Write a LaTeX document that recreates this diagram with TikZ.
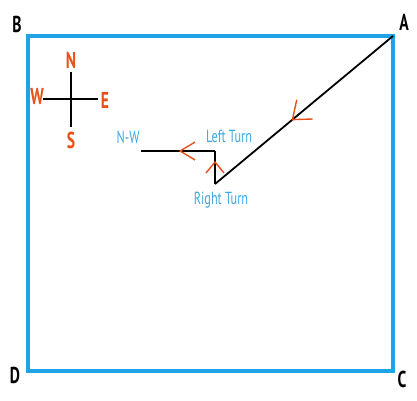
\documentclass[tikz,border=0pt]{standalone}
\usepackage{fontspec}
\usetikzlibrary{arrows.meta,decorations.markings}
\newfontfamily\condbold[FakeStretch=0.68]{PT Sans Bold}
\newfontfamily\condreg[FakeStretch=0.7]{PT Sans}
\definecolor{sqblue}{HTML}{1DA3E6}
\definecolor{txtblue}{HTML}{3DA8E0}
\definecolor{orng}{HTML}{E8501A}
\begin{document}
\begin{tikzpicture}[x=1pt,y=-1pt,
  corner/.style={font=\condbold\fontsize{23}{23}\selectfont, text=black, inner sep=0pt},
  dirlab/.style={font=\condbold\fontsize{23}{23}\selectfont, text=orng, inner sep=0pt},
  bluelab/.style={font=\condreg\fontsize{17.5}{17.5}\selectfont, text=txtblue, inner sep=0pt},
  pathline/.style={draw=black, line width=1.8pt},
  mk/.style args={#1/#2/#3}{postaction={decorate, decoration={markings,
      mark=at position #1 with {\arrow[orng, line width=1.4pt]{Straight Barb[length=#2pt,width=#3pt]}}}}}
]
\useasboundingbox (0,0) rectangle (417,400);
% square
\coordinate (sqA) at (393,36);
\coordinate (sqB) at (28,36);
\coordinate (sqC) at (393,371);
\coordinate (sqD) at (28,371);
\draw[sqblue, line width=3.6pt, line join=miter] (sqB) -- (sqA) -- (sqC) -- (sqD) -- cycle;
% corner labels
\node[corner] (labA) at (404,22) {A};
\node[corner] (labB) at (17,24) {B};
\node[corner] (labC) at (402,379) {C};
\node[corner] (labD) at (15,375) {D};
% compass
\coordinate (cN) at (71,72);
\coordinate (cS) at (71,127);
\coordinate (cW) at (43,99);
\coordinate (cE) at (98,99);
\draw[black, line width=1.6pt] (cN) -- (cS);
\draw[black, line width=1.6pt] (cW) -- (cE);
\node[dirlab] (dN) at (71,60) {N};
\node[dirlab] (dS) at (71,140) {S};
\node[dirlab] (dW) at (37,97) {W};
\node[dirlab] (dE) at (105,100) {E};
% path
\coordinate (pR) at (215,184);
\coordinate (pL) at (215,151);
\coordinate (pNW) at (141,151);
\draw[pathline, mk={0.57/16/25}] (sqA) -- (pR);
\draw[pathline, mk={0.70/11/18}] (pR) -- (pL);
\draw[pathline, mk={0.49/15/18}] (pL) -- (pNW);
% labels
\node[bluelab] (tNW) at (128,137) {N-W};
\node[bluelab] (tLeft) at (229,136) {Left Turn};
\node[bluelab] (tRight) at (221,200) {Right Turn};
\end{tikzpicture}
\end{document}
